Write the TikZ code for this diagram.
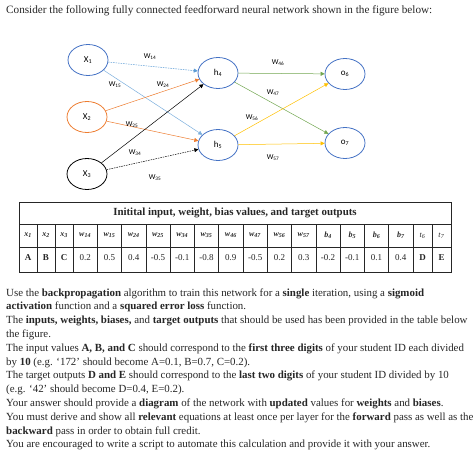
\documentclass[tikz,border=0pt]{standalone}
\usepackage{fontspec}
\setmainfont{Liberation Serif}
\newfontfamily\calibri{Carlito}
\usetikzlibrary{shapes.geometric,arrows.meta}

\definecolor{netblue}{HTML}{4472C4}
\definecolor{lightblue}{HTML}{5B9BD5}
\definecolor{netorange}{HTML}{ED7D31}
\definecolor{netgreen}{HTML}{70AD47}
\definecolor{netyellow}{HTML}{FFC000}
\definecolor{txtgray}{HTML}{262626}

\newcommand{\hdr}[2]{\textbf{\textit{#1}\textsubscript{\textit{#2}}}}

\begin{document}
\begin{tikzpicture}[
  x=1pt, y=-1pt,
  neuron/.style={
    ellipse, draw=netblue, line width=0.8pt,
    minimum width=40pt, minimum height=31pt,
    inner sep=0pt, font=\calibri\fontsize{9}{10}\selectfont
  },
  wlabel/.style={
    font=\calibri\fontsize{7.5}{8}\selectfont, inner sep=0pt
  },
  conn/.style={
    -{Triangle[length=4pt,width=4pt]}, line width=0.5pt
  },
  textline/.style={
    anchor=base west, inner sep=0pt, text=txtgray,
    font=\fontsize{10.9}{12}\selectfont
  },
  cell/.style={
    inner sep=0pt, text=txtgray, font=\fontsize{9}{10}\selectfont
  }
  ]
  \useasboundingbox (0,0) rectangle (474,463);

  \node[textline, font=\fontsize{11.2}{12}\selectfont] (intro) at (6,13)
    {Consider the following fully connected feedforward neural network shown in the figure below:};

  % the network
  \node[neuron] (x1) at (88,60) {X\textsubscript{1}};
  \node[neuron, draw=netorange] (x2) at (87,117) {X\textsubscript{2}};
  \node[neuron, draw=black] (x3) at (87,174) {X\textsubscript{3}};
  \node[neuron] (h4) at (218,73) {h\textsubscript{4}};
  \node[neuron] (h5) at (218,145) {h\textsubscript{5}};
  \node[neuron] (o6) at (345,74) {o\textsubscript{6}};
  \node[neuron] (o7) at (345,143) {o\textsubscript{7}};

  \draw[conn, lightblue, dash pattern=on 1.5pt off 1pt] (x1) -- (h4);
  \draw[conn, lightblue!80] (x1) -- (h5);
  \draw[conn, netorange] (x2) -- (h4);
  \draw[conn, netorange] (x2) -- (h5);
  \draw[conn, black] (x3) -- (h4);
  \draw[conn, black, dash pattern=on 1.5pt off 1pt] (x3) -- (h5);
  \draw[conn, netgreen!85!gray] (h4) -- (o6);
  \draw[conn, netgreen!85!gray] (h4) -- (o7);
  \draw[conn, netyellow] (h5) -- (o6);
  \draw[conn, netyellow] (h5) -- (o7);

  \node[wlabel] (w14) at (150,57) {W\textsubscript{14}};
  \node[wlabel] (w15) at (115,85) {W\textsubscript{15}};
  \node[wlabel] (w24) at (163,85) {W\textsubscript{24}};
  \node[wlabel] (w25) at (132,125) {W\textsubscript{25}};
  \node[wlabel] (w34) at (135,153) {W\textsubscript{34}};
  \node[wlabel] (w35) at (155,178) {W\textsubscript{35}};
  \node[wlabel] (w46) at (278,63) {W\textsubscript{46}};
  \node[wlabel] (w47) at (273,93) {W\textsubscript{47}};
  \node[wlabel] (w56) at (252,118) {W\textsubscript{56}};
  \node[wlabel] (w57) at (273,158) {W\textsubscript{57}};

  % the table
  \draw[txtgray, line width=0.6pt] (19,202) rectangle (451,272);
  \draw[txtgray, line width=0.5pt] (19,224) -- (451,224) (19,247) -- (451,247);
  \node[cell, font=\bfseries\fontsize{10.9}{12}\selectfont] (title) at (235,213)
    {Initital input, weight, bias values, and target outputs};
  \foreach \a/\b/\hd/\v [count=\c] in {
      19/37/{\hdr{x}{1}}/{\textbf{A}},
      37/55/{\hdr{x}{2}}/{\textbf{B}},
      55/73/{\hdr{x}{3}}/{\textbf{C}},
      73/97.3/{\hdr{w}{14}}/0.2,
      97.3/121.6/{\hdr{w}{15}}/0.5,
      121.6/145.9/{\hdr{w}{24}}/0.4,
      145.9/170.1/{\hdr{w}{25}}/-0.5,
      170.1/194.4/{\hdr{w}{34}}/-0.1,
      194.4/218.7/{\hdr{w}{35}}/-0.8,
      218.7/243/{\hdr{w}{46}}/0.9,
      243/267.3/{\hdr{w}{47}}/-0.5,
      267.3/291.6/{\hdr{w}{56}}/0.2,
      291.6/315.9/{\hdr{w}{57}}/0.3,
      315.9/340.1/{\hdr{b}{4}}/-0.2,
      340.1/364.4/{\hdr{b}{5}}/-0.1,
      364.4/388.7/{\hdr{b}{6}}/0.1,
      388.7/413/{\hdr{b}{7}}/0.4,
      413/432/{\textit{t}\textsubscript{\textit{6}}}/{\textbf{D}},
      432/451/{\textit{t}\textsubscript{\textit{7}}}/{\textbf{E}}} {
    \draw[txtgray, line width=0.5pt] (\b,224) -- (\b,272);
    \node[cell, font=\fontsize{8}{9}\selectfont] (hd\c) at ({(\a+\b)/2},235.5) {\hd};
    \node[cell] (val\c) at ({(\a+\b)/2},258) {\v};
  }

  % the task
  \foreach \ln [count=\k] in {
      {Use the \textbf{backpropagation} algorithm to train this network for a \textbf{single} iteration, using a \textbf{sigmoid}},
      {\textbf{activation} function and a \textbf{squared error loss} function.},
      {The \textbf{inputs, weights, biases,} and \textbf{target outputs} that should be used has been provided in the table below},
      {the figure.},
      {The input values \textbf{A, B, and C} should correspond to the \textbf{first three digits} of your student ID each divided},
      {by \textbf{10} (e.g. `172' should become A=0.1, B=0.7, C=0.2).},
      {The target outputs \textbf{D and E} should correspond to the \textbf{last two digits} of your student ID divided by 10},
      {(e.g. `42' should become D=0.4, E=0.2).},
      {Your answer should provide a \textbf{diagram} of the network with \textbf{updated} values for \textbf{weights} and \textbf{biases}.},
      {You must derive and show all \textbf{relevant} equations at least once per layer for the \textbf{forward} pass as well as the},
      {\textbf{backward} pass in order to obtain full credit.},
      {You are encouraged to write a script to automate this calculation and provide it with your answer.}} {
    \node[textline] (line\k) at (6,{296+13.8*(\k-1)}) {\ln};
  }
\end{tikzpicture}
\end{document}
